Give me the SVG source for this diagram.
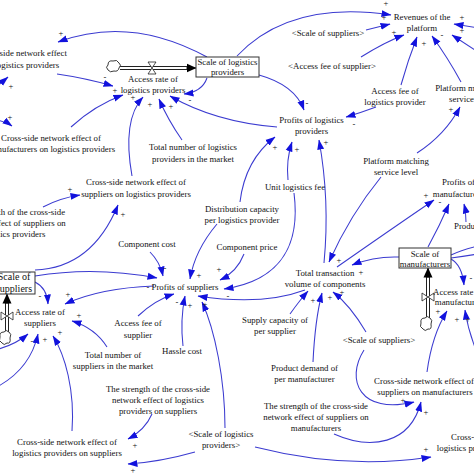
<svg xmlns="http://www.w3.org/2000/svg" width="474" height="474" viewBox="0 0 474 474">
<style>
text{font-family:"Liberation Serif","Times New Roman",serif;font-size:8.8px;fill:#111;text-anchor:middle}
.p{font-size:8.5px}
.l{fill:none;stroke:#3b3bd0;stroke-width:1.05}
.box{fill:#fff;stroke:#333;stroke-width:1}
.pipe{fill:none;stroke:#222;stroke-width:1}
.cloud{fill:#fff;stroke:#222;stroke-width:0.9}
</style>
<defs>
<marker id="a" markerUnits="userSpaceOnUse" markerWidth="10" markerHeight="8" refX="9.5" refY="4" orient="auto"><path d="M0,0.5 L10,4 L0,7.5 z" fill="#1212dd"/></marker>
<marker id="b" markerUnits="userSpaceOnUse" markerWidth="10" markerHeight="10" refX="9.5" refY="5" orient="auto"><path d="M0,0.5 L10,5 L0,9.5 z" fill="#000"/></marker>
</defs>
<rect width="474" height="474" fill="#fff"/>

<g id="connectors">
<path class="l" marker-end="url(#a)" d="M207,57 Q130,15 58,42"/>
<path class="l" marker-end="url(#a)" d="M57,74 Q85,78 113,86"/>
<path class="l" marker-end="url(#a)" d="M-5,88 L8,77"/>
<path class="l" marker-end="url(#a)" d="M71,127 Q95,105 123,95"/>
<path class="l" marker-end="url(#a)" d="M-5,120 Q5,121 12,126"/>
<path class="l" marker-end="url(#a)" d="M132,176 Q122,120 143,97"/>
<path class="l" marker-end="url(#a)" d="M182,140 Q168,120 159,99"/>
<path class="l" marker-end="url(#a)" d="M277,127 Q215,122 170,96"/>
<path class="l" marker-end="url(#a)" d="M207,78 Q202,92 184,94"/>
<path class="l" marker-end="url(#a)" d="M259,75 Q295,85 304,110"/>
<path class="l" marker-end="url(#a)" d="M237,56 Q290,0 391,15"/>
<path class="l" marker-end="url(#a)" d="M366,30 L390,24"/>
<path class="l" marker-end="url(#a)" d="M361,57 Q385,42 404,35"/>
<path class="l" marker-end="url(#a)" d="M401,85 Q408,60 417,37"/>
<path class="l" marker-end="url(#a)" d="M461,82 Q448,58 432,36"/>
<path class="l" marker-end="url(#a)" d="M478,28 L454,24"/>
<path class="l" marker-end="url(#a)" d="M478,52 L452,35"/>
<path class="l" marker-end="url(#a)" d="M376,107 Q360,113 346,117"/>
<path class="l" marker-end="url(#a)" d="M240,202 Q245,160 275,137"/>
<path class="l" marker-end="url(#a)" d="M288,180 Q286,160 292,142"/>
<path class="l" marker-end="url(#a)" d="M324,263 Q330,200 319,140"/>
<path class="l" marker-end="url(#a)" d="M381,177 Q350,215 329,262"/>
<path class="l" marker-end="url(#a)" d="M417,153 Q445,135 460,107"/>
<path class="l" marker-end="url(#a)" d="M337,267 Q390,230 434,200"/>
<path class="l" marker-end="url(#a)" d="M428,247 Q440,225 449,204"/>
<path class="l" marker-end="url(#a)" d="M466,222 Q466,212 464,204"/>
<path class="l" marker-end="url(#a)" d="M399,257 Q375,256 352,265"/>
<path class="l" marker-end="url(#a)" d="M451,259 Q462,265 464,285"/>
<path class="l" d="M451,255 Q462,250 478,246"/>
<path class="l" d="M451,258 Q465,256 478,254"/>
<path class="l" marker-end="url(#a)" d="M427,372 Q432,335 447,311"/>
<path class="l" marker-end="url(#a)" d="M476,350 Q468,330 465,310"/>
<path class="l" marker-end="url(#a)" d="M364,350 C345,380 360,415 414,402"/>
<path class="l" marker-end="url(#a)" d="M334,434 C370,450 410,445 421,402"/>
<path class="l" marker-end="url(#a)" d="M255,447 Q345,470 431,457"/>
<path class="l" marker-end="url(#a)" d="M366,332 Q350,305 333,292"/>
<path class="l" marker-end="url(#a)" d="M313,362 Q315,320 322,293"/>
<path class="l" marker-end="url(#a)" d="M290,314 Q300,300 308,291"/>
<path class="l" marker-end="url(#a)" d="M305,290 Q262,306 198,296"/>
<path class="l" marker-end="url(#a)" d="M294,193 C300,240 285,280 224,289"/>
<path class="l" marker-end="url(#a)" d="M217,224 Q195,250 190,279"/>
<path class="l" marker-end="url(#a)" d="M244,254 Q237,272 220,280"/>
<path class="l" marker-end="url(#a)" d="M150,252 Q160,262 163,276"/>
<path class="l" marker-end="url(#a)" d="M35,276 Q95,266 157,278"/>
<path class="l" marker-end="url(#a)" d="M154,286 Q100,288 65,304"/>
<path class="l" marker-end="url(#a)" d="M35,282 Q47,288 48,304"/>
<path class="l" marker-end="url(#a)" d="M35,270 Q92,268 118,205"/>
<path class="l" marker-end="url(#a)" d="M43,207 Q60,198 80,195"/>
<path class="l" marker-end="url(#a)" d="M107,347 Q95,328 72,321"/>
<path class="l" marker-end="url(#a)" d="M138,316 Q155,300 174,294"/>
<path class="l" marker-end="url(#a)" d="M183,346 Q180,320 185,296"/>
<path class="l" marker-end="url(#a)" d="M225,428 C225,380 215,330 202,302"/>
<path class="l" marker-end="url(#a)" d="M195,452 Q160,462 128,464"/>
<path class="l" marker-end="url(#a)" d="M152,414 Q145,430 128,439"/>
<path class="l" marker-end="url(#a)" d="M72,431 C75,390 65,355 53,336"/>
<path class="l" marker-end="url(#a)" d="M-5,350 Q15,345 28,334"/>
<path class="l" marker-end="url(#a)" d="M-5,388 Q30,370 38,334"/>
</g>

<g id="polarities">
<text class="p" x="61" y="36">+</text>
<text class="p" x="105" y="80">-</text>
<text class="p" x="11" y="89">+</text>
<text class="p" x="115" y="93">+</text>
<text class="p" x="10" y="120">+</text>
<text class="p" x="133" y="100">+</text>
<text class="p" x="150" y="107">+</text>
<text class="p" x="171" y="109">+</text>
<text class="p" x="190" y="103">-</text>
<text class="p" x="307" y="106">-</text>
<text class="p" x="386" y="6">+</text>
<text class="p" x="384" y="20">+</text>
<text class="p" x="394" y="35">+</text>
<text class="p" x="424" y="46">+</text>
<text class="p" x="442" y="38">-</text>
<text class="p" x="462" y="20">+</text>
<text class="p" x="462" y="33">+</text>
<text class="p" x="354" y="127">-</text>
<text class="p" x="275" y="150">+</text>
<text class="p" x="297" y="152">+</text>
<text class="p" x="326" y="145">+</text>
<text class="p" x="339" y="263">+</text>
<text class="p" x="451" y="112">+</text>
<text class="p" x="426" y="198">+</text>
<text class="p" x="440" y="205">-</text>
<text class="p" x="361" y="275">+</text>
<text class="p" x="471" y="281">-</text>
<text class="p" x="438" y="314">+</text>
<text class="p" x="457" y="322">+</text>
<text class="p" x="468" y="322">+</text>
<text class="p" x="403" y="403">+</text>
<text class="p" x="426" y="415">+</text>
<text class="p" x="426" y="452">+</text>
<text class="p" x="342" y="295">+</text>
<text class="p" x="330" y="300">+</text>
<text class="p" x="313" y="303">+</text>
<text class="p" x="228" y="299">-</text>
<text class="p" x="199" y="278">+</text>
<text class="p" x="219" y="272">+</text>
<text class="p" x="165" y="271">-</text>
<text class="p" x="148" y="290">-</text>
<text class="p" x="177" y="305">-</text>
<text class="p" x="68" y="297">+</text>
<text class="p" x="40" y="299">-</text>
<text class="p" x="123" y="217">+</text>
<text class="p" x="70" y="192">+</text>
<text class="p" x="79" y="318">+</text>
<text class="p" x="190" y="308">+</text>
<text class="p" x="205" y="307">+</text>
<text class="p" x="133" y="473">+</text>
<text class="p" x="135" y="448">+</text>
<text class="p" x="60" y="335">+</text>
<text class="p" x="32" y="344">-</text>
<text class="p" x="45" y="342">+</text>
</g>

<g id="n_scale_lp">
<line class="pipe" x1="120" y1="66.5" x2="190" y2="66.5"/><line class="pipe" x1="120" y1="69.5" x2="190" y2="69.5"/>
<path class="pipe" marker-end="url(#b)" d="M186,68 L196,68"/>
<path class="cloud" d="M108,65 q0,-5 5,-4 q4,-2 6,2 q3,2 0,5 q-1,4 -5,3 q-4,2 -6,-1 q-3,-3 0,-5z"/>
<path d="M148,62 L156,62 L152,68 L156,74 L148,74 L152,68 z" fill="#fff" stroke="#222" stroke-width="0.8"/>
<rect class="box" x="196" y="57" width="63" height="20"/>
<text x="227.5" y="65">Scale of logistics</text><text x="227.5" y="74.5">providers</text>
</g>
<g id="n_access_lp"><text x="153" y="82">Access rate of</text><text x="153" y="92.5">logistics providers</text></g>
<g id="n_same"><text x="22" y="56">Same-side network effect</text><text x="22" y="68">of logistics providers</text></g>
<g id="n_cross_m_lp"><text x="51" y="141">Cross-side network effect of</text><text x="51" y="152">manufacturers on logistics providers</text></g>
<g id="n_total_lp"><text x="193" y="150">Total number of logistics</text><text x="193" y="161.5">providers in the market</text></g>
<g id="n_rev"><text x="422" y="20">Revenues of the</text><text x="422" y="31">platform</text></g>
<g id="n_scale_s_shadow1"><text x="328" y="36">&lt;Scale of suppliers&gt;</text></g>
<g id="n_access_fee_s_shadow"><text x="332" y="69">&lt;Access fee of supplier&gt;</text></g>
<g id="n_access_fee_lp"><text x="395" y="94">Access fee of</text><text x="395" y="105">logistics provider</text></g>
<g id="n_pms_fee"><text x="468" y="91">Platform matching</text><text x="468" y="102">service fee</text></g>
<g id="n_profit_lp"><text x="311.5" y="123">Profits of logistics</text><text x="311.5" y="134">providers</text></g>
<g id="n_pms_level"><text x="396" y="164">Platform matching</text><text x="396" y="175">service level</text></g>
<g id="n_unit_fee"><text x="295" y="190">Unit logistics fee</text></g>
<g id="n_cross_s_lp"><text x="136" y="185">Cross-side network effect of</text><text x="136" y="197">suppliers on logistics providers</text></g>
<g id="n_strength_s_lp"><text x="13" y="215">The strength of the cross-side</text><text x="13" y="226">network effect of suppliers on</text><text x="13" y="237">logistics providers</text></g>
<g id="n_dist"><text x="242" y="212">Distribution capacity</text><text x="242" y="223">per logistics provider</text></g>
<g id="n_comp_cost"><text x="147" y="247">Component cost</text></g>
<g id="n_comp_price"><text x="247" y="250">Component price</text></g>
<g id="n_profit_s"><text x="185" y="290">Profits of suppliers</text></g>
<g id="n_ttv"><text x="325" y="276">Total transaction</text><text x="325" y="287">volume of components</text></g>
<g id="n_profit_m"><text x="458.5" y="185">Profits of</text><text x="458" y="197">manufacturers</text></g>
<g id="n_product"><text x="454" y="229" style="text-anchor:start">Product</text></g>
<g id="n_scale_m">
<line class="pipe" x1="426.5" y1="276" x2="426.5" y2="318"/><line class="pipe" x1="429.5" y1="276" x2="429.5" y2="318"/>
<path class="pipe" marker-end="url(#b)" d="M428,278 L428,268"/>
<path class="cloud" d="M425,318 q-5,0 -4,5 q-2,4 2,6 q2,3 5,0 q4,1 3,-5 q2,-4 -1,-6 q-3,-3 -5,0z"/>
<path d="M422,293 L422,301 L428,297 L434,301 L434,293 L428,297 z" fill="#fff" stroke="#222" stroke-width="0.8"/>
<rect class="box" x="399" y="248" width="52" height="20"/>
<text x="425" y="257">Scale of</text><text x="425" y="266.5">manufacturers</text>
</g>
<g id="n_access_m"><text x="458" y="295">Access rate of</text><text x="460" y="305">manufacturers</text></g>
<g id="n_scale_s">
<line class="pipe" x1="5.5" y1="302" x2="5.5" y2="332"/><line class="pipe" x1="8.5" y1="302" x2="8.5" y2="332"/>
<path class="pipe" marker-end="url(#b)" d="M7,304 L7,294"/>
<path class="cloud" d="M4,332 q-5,0 -4,5 q-2,4 2,6 q2,3 5,0 q4,1 3,-5 q2,-4 -1,-6 q-3,-3 -5,0z"/>
<path d="M1,312 L1,320 L7,316 L13,320 L13,312 L7,316 z" fill="#fff" stroke="#222" stroke-width="0.8"/>
<rect class="box" x="-10" y="272" width="45" height="22"/>
<text x="14" y="280" style="font-size:10px">Scale of</text><text x="14" y="291.5" style="font-size:10px">suppliers</text>
</g>
<g id="n_access_s"><text x="40" y="315">Access rate of</text><text x="40" y="326">suppliers</text></g>
<g id="n_access_fee_s"><text x="138" y="326">Access fee of</text><text x="138" y="338">supplier</text></g>
<g id="n_supply"><text x="275" y="323">Supply capacity of</text><text x="275" y="334">per supplier</text></g>
<g id="n_scale_s_shadow2"><text x="379" y="343">&lt;Scale of suppliers&gt;</text></g>
<g id="n_hassle"><text x="182" y="354">Hassle cost</text></g>
<g id="n_total_s"><text x="113" y="358">Total number of</text><text x="113" y="369">suppliers in the market</text></g>
<g id="n_demand"><text x="304.5" y="371">Product demand of</text><text x="304.5" y="382">per manufacturer</text></g>
<g id="n_cross_s_m"><text x="424" y="384">Cross-side network effect of</text><text x="425" y="395">suppliers on manufacturers</text></g>
<g id="n_strength_lp_s"><text x="158" y="392">The strength of the cross-side</text><text x="158" y="403">network effect of logistics</text><text x="158" y="414">providers on suppliers</text></g>
<g id="n_strength_s_m"><text x="316" y="409">The strength of the cross-side</text><text x="316" y="420">network effect of suppliers on</text><text x="316" y="431">manufacturers</text></g>
<g id="n_scale_lp_shadow"><text x="221" y="437">&lt;Scale of logistics</text><text x="221" y="448">providers&gt;</text></g>
<g id="n_cross_lp_m"><text x="501" y="440">Cross-side network effect of</text><text x="501" y="451">logistics providers on manufacturers</text></g>
<g id="n_cross_lp_s"><text x="67" y="445">Cross-side network effect of</text><text x="67" y="456">logistics providers on suppliers</text></g>
</svg>
